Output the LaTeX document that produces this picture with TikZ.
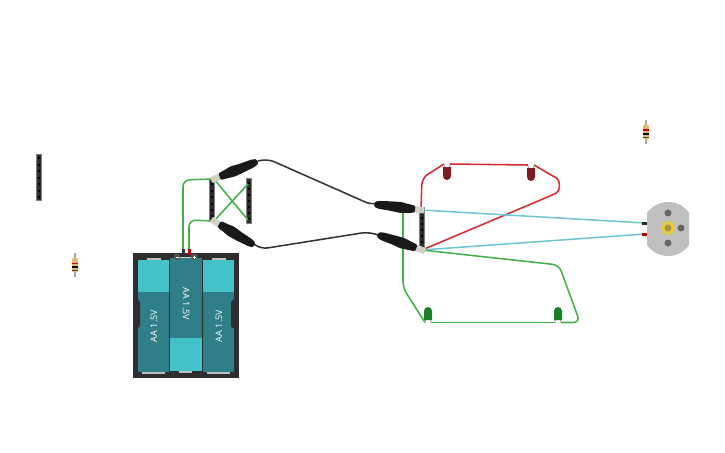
\documentclass[tikz,border=0pt]{standalone}
\usepackage{fontspec}
\setsansfont{Open Sans}
\usetikzlibrary{positioning}
\definecolor{wirered}{HTML}{D9282E}
\definecolor{wiregreen}{HTML}{41B04A}
\definecolor{wireblue}{HTML}{6FC6D0}
\definecolor{wireblack}{HTML}{333333}
\definecolor{celldark}{HTML}{2F7F88}
\definecolor{celllight}{HTML}{45C2C7}
\definecolor{holder}{HTML}{2E2E2E}
\definecolor{ledred}{HTML}{7E1C22}
\definecolor{ledgreen}{HTML}{1B7F28}
\definecolor{restan}{HTML}{DDB877}
\definecolor{geary}{HTML}{EBCB35}
\tikzset{
	wire/.style={line width=1.15pt,line join=round,rounded corners=5},
	headerbox/.style={draw=gray,line width=0.4pt,fill=holder,minimum width=4pt,inner sep=0pt},
	celltext/.style={text=white,font=\sffamily\fontsize{6.8}{7}\selectfont,inner sep=0pt}
}
% one alligator clip, tip at #1, going off at angle #2
\newcommand{\alligator}[2]{
	\begin{scope}[shift={(#1)},rotate=#2]
		\fill[black!18] (-3,-3) -- (8,-3.5) -- (8,3.5) -- (-3,3) -- cycle;
		\fill[black!90,rounded corners=1] (6,-3.5) -- (14,-4.5) -- (20,-5.5) -- (30,-4.5)
			-- (42,-4) -- (47,-2.5) -- (47,2.5) -- (42,4) -- (30,5)
			-- (20,5.5) -- (14,4.5) -- (6,3.5) -- cycle;
		\fill[geary] (0,0) circle (1);
	\end{scope}
}
% one led, centre at #1, colour #2, legs up for yscale #3=1
\newcommand{\ledbody}[3]{
	\begin{scope}[shift={(#1)},yscale=#3]
		\draw[black!35,line width=0.7pt] (-2.5,-6) -- (-3,-9);
		\draw[black!35,line width=0.7pt] (2.5,-6) -- (3,-9);
		\fill[#2] (-4,-6.5) -- (4,-6.5) -- (4,2.5) arc (0:180:4) -- cycle;
	\end{scope}
}
% one resistor, centre at #1
\newcommand{\resistor}[1]{
	\begin{scope}[shift={(#1)}]
		\draw[black!35,line width=1pt] (0,-12) -- (0,12);
		\fill[restan,rounded corners=1.5] (-3,-7.5) rectangle (3,7.5);
		\fill[red!85!black] (-2.7,-2.5) rectangle (2.7,-0.8);
		\fill[black] (-2.7,0.5) rectangle (2.7,3);
		\fill[black!50!brown] (-3,4.7) rectangle (3,6);
	\end{scope}
}
\begin{document}
\begin{tikzpicture}[x=0.75pt,y=-0.75pt]
	\useasboundingbox (0,0) rectangle (725,453);
	% pins
	\coordinate (pinneg) at (183,253);
	\coordinate (pinpos) at (189,253);
	\coordinate (clipa) at (214,179);
	\coordinate (clipb) at (214,221);
	\coordinate (clipc) at (421,210);
	\coordinate (clipd) at (422,250);
	\coordinate (crossa) at (248,184);
	\coordinate (crossb) at (248,220);
	\coordinate (clipaend) at (258,161);
	\coordinate (clipbend) at (254,244);
	\coordinate (clipcend) at (375,204);
	\coordinate (clipdend) at (378,235);
	\coordinate (motorneg) at (645,223);
	\coordinate (motorpos) at (645,234);
	\coordinate (ledaleft) at (444,164);
	\coordinate (ledaright) at (450,164);
	\coordinate (ledbleft) at (528,165);
	\coordinate (ledbright) at (534,165);
	\coordinate (ledcleft) at (425,322.5);
	\coordinate (ledcright) at (431,322.5);
	\coordinate (leddleft) at (555,322.5);
	\coordinate (leddright) at (561,322.5);
	\coordinate (greentop) at (403,208);

	% headers
	\node[headerbox,minimum height=34.5pt] (hdrfree) at (39,177.5) {};
	\node[headerbox,minimum height=32pt] (hdra) at (212,200) {};
	\node[headerbox,minimum height=34pt] (hdrb) at (249,201) {};
	\node[headerbox,minimum height=33pt] (hdrc) at (422,229) {};
	\foreach \x/\y in {39/158,39/165,39/171,39/178,39/184,39/191,39/197,
		212/184,212/191,212/197,212/204,212/210,212/216,
		249/183,249/189,249/195,249/201,249/207,249/213,249/219,
		422/212,422/218,422/224,422/230,422/236,422/242}
		\fill[black] (\x,\y) circle (1.3);

	% wires
	\draw[wire,wireblack] (clipaend) -- (268,159) -- (372,205) -- (clipcend);
	\draw[wire,wireblack] (clipbend) -- (261,249) -- (368,232) -- (clipdend);
	\draw[wire,wiregreen] (pinneg) -- (183,180) -- (clipa);
	\draw[wire,wiregreen] (pinpos) -- (189,220) -- (clipb);
	\draw[wire,wiregreen,rounded corners=0] (clipa) -- (crossb);
	\draw[wire,wiregreen,rounded corners=0] (clipb) -- (crossa);
	\draw[wire,wiregreen] (greentop) -- (403,288) -- (ledcleft);
	\draw[wire,wiregreen] (ledcright) -- (leddleft);
	\draw[wire,wiregreen] (leddright) -- (580,322.5) -- (559,265) -- (clipd);
	\draw[wire,wirered] (clipc) -- (422,178) -- (ledaleft);
	\draw[wire,wirered] (ledaright) -- (ledbleft);
	\draw[wire,wirered] (ledbright) -- (551,175) .. controls (560,180) and (561,191) .. (550,196) -- (clipd);
	\draw[wire,wireblue,rounded corners=0] (clipc) -- (motorneg);
	\draw[wire,wireblue,rounded corners=0] (clipd) -- (motorpos);

	% clips
	\alligator{clipa}{22}
	\alligator{clipb}{-31}
	\alligator{clipc}{173}
	\alligator{clipd}{161}

	% leds
	\ledbody{447,173.5}{ledred}{1}
	\ledbody{531,174.5}{ledred}{1}
	\ledbody{428,313.5}{ledgreen}{-1}
	\ledbody{558,313.5}{ledgreen}{-1}

	% battery holder
	\fill[holder] (133,253) rectangle (239,378);
	\fill[black!25] (147,258) rectangle (161,261);
	\fill[black!25] (212,258) rectangle (226,261);
	\fill[black!25] (142,371) rectangle (165,374);
	\fill[black!25] (207,371) rectangle (230,374);
	\fill[black!25] (179,370) rectangle (192,373);
	\foreach \x in {138,203} {
		\fill[celllight] (\x,260) rectangle (\x+31,292);
		\fill[celldark] (\x,292) rectangle (\x+31,372);
	}
	\fill[celldark] (170,258) rectangle (202,338);
	\fill[celllight] (170,338) rectangle (202,371);
	\fill[holder,rounded corners=2] (134,300) rectangle (140,328);
	\fill[holder,rounded corners=2] (231,300) rectangle (236,328);
	\draw[black!15,line width=0.5pt] (177,257) -- (194,257);
	\foreach \x in {177,194}
		\draw[black!60,fill=black!70] (\x,257) circle (3);
	\draw[white,line width=0.5pt] (175.5,257) -- (178.5,257);
	\draw[white,line width=0.5pt] (192.5,257) -- (195.5,257) (194,255.5) -- (194,258.5);
	\fill[black!80] (181.5,249) rectangle (184.5,255);
	\fill[red!75!black] (187.5,249) rectangle (190.5,255);
	\node[celltext,rotate=90] (labela) at (154,326) {AA 1.5V};
	\node[celltext,rotate=-90] (labelb) at (186,304) {AA 1.5V};
	\node[celltext,rotate=90] (labelc) at (219,326) {AA 1.5V};

	% resistors
	\resistor{75,265}
	\resistor{646,132}

	% motor
	\fill[black!25] (647,213) .. controls (652,206) and (660,202) .. (668,202)
		.. controls (677,202) and (684,206) .. (689,213) -- (689,245)
		.. controls (684,252) and (677,256) .. (668,256)
		.. controls (660,256) and (652,252) .. (647,245) -- cycle;
	\foreach \x/\y in {668/213,668/243,681/228}
		\fill[black!60] (\x,\y) circle (3.5);
	\foreach \a in {0,45,...,315}
		\fill[geary] ([shift={(\a-18:5.5)}]668,228) -- ([shift={(\a:8.5)}]668,228) -- ([shift={(\a+18:5.5)}]668,228) -- cycle;
	\fill[geary] (668,228) circle (6);
	\fill[black!20!geary!60!gray] (668,228) circle (3.5);
	\fill[black!85] (642,221.5) rectangle (647,224.5);
	\fill[red!70!black] (642,232.5) rectangle (647,235.5);
\end{tikzpicture}
\end{document}
